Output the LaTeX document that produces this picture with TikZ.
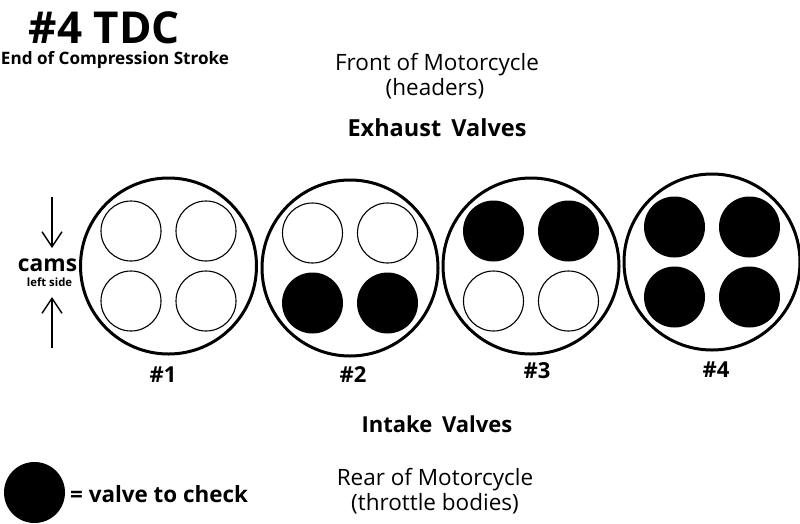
\documentclass[tikz,border=0pt]{standalone}
\usepackage{fontspec}
\setmainfont{Open Sans}
\usepackage{tikz}
\usetikzlibrary{calc,arrows.meta}
\definecolor{ink}{HTML}{000000}
\definecolor{paper}{HTML}{FFFFFF}
\tikzset{
  cyl/.style={draw=ink, line width=3pt, circle, minimum size=176pt, inner sep=0pt},
  vopen/.style={draw=ink, line width=1.1pt, fill=paper, circle, minimum size=60pt, inner sep=0pt},
  vcheck/.style={fill=ink, circle, minimum size=61pt, inner sep=0pt},
  lab/.style={text=ink, inner sep=0pt, anchor=base},
  bigb/.style={lab, font=\fontsize{44}{44}\selectfont\bfseries},
  headb/.style={lab, font=\fontsize{22.5}{23}\selectfont\bfseries},
  headr/.style={lab, font=\fontsize{22.5}{23}\selectfont},
  num/.style={lab, font=\fontsize{22}{22}\selectfont\bfseries},
  camarrow/.style={draw=ink, line width=1.4pt, -{Straight Barb[length=15pt,width=20pt,line width=1.4pt]}}
}

\begin{document}
\begin{tikzpicture}[x=1pt,y=-1pt]
  \useasboundingbox[fill=paper] (0,0) rectangle (800,523);

  % title
  \node[bigb, text depth=0pt] (title) at (104.5,43) {\#4 TDC};
  \node[lab, font=\fontsize{17.1}{18}\selectfont\bfseries] (stroke) at (115,64) {End of Compression Stroke};

  % front side
  \node[headr] (front) at (437,70) {Front of Motorcycle};
  \node[headr] (headers) at (435,95) {(headers)};
  \node[headb, font=\fontsize{23.5}{24}\selectfont\bfseries] (exhaust) at (437,136) {Exhaust\hspace{4pt} Valves};

  % cylinders: number / x / y / TL / TR / BL / BR
  \foreach \n/\cx/\cy/\tl/\tr/\bl/\br in {
      1/168.5/266/vopen/vopen/vopen/vopen,
      2/350/268/vopen/vopen/vcheck/vcheck,
      3/531/266/vcheck/vcheck/vopen/vopen,
      4/712/262/vcheck/vcheck/vcheck/vcheck}{
    \node[cyl] (c\n) at (\cx,\cy) {};
    \node[\tl] (c\n tl) at ($(c\n)+(-37.5,-35)$) {};
    \node[\tr] (c\n tr) at ($(c\n)+(37.5,-35)$) {};
    \node[\bl] (c\n bl) at ($(c\n)+(-37.5,35)$) {};
    \node[\br] (c\n br) at ($(c\n)+(37.5,35)$) {};
  }

  \node[num] (n1) at (163,382) {\#1};
  \node[num] (n2) at (353,382) {\#2};
  \node[num] (n3) at (537,378) {\#3};
  \node[num] (n4) at (716,377) {\#4};

  % cam side
  \node[lab, font=\fontsize{22.8}{24}\selectfont\bfseries] (cams) at (47.5,271.5) {cams};
  \node[lab, font=\fontsize{11.3}{12}\selectfont\bfseries] (left) at (49.5,286.5) {left side};
  \coordinate (dtop) at (52,197);
  \coordinate (dend) at (52,248);
  \coordinate (ubot) at (52,348);
  \coordinate (uend) at (52,297);
  \draw[camarrow] (dtop) -- (dend);
  \draw[camarrow] (ubot) -- (uend);

  % rear side
  \node[headb, font=\fontsize{22}{23}\selectfont\bfseries] (intake) at (437,432) {Intake\hspace{4pt} Valves};
  \node[headr] (rear) at (435,485) {Rear of Motorcycle};
  \node[headr] (throttle) at (435,510) {(throttle bodies)};

  % legend
  \node[vcheck] (key) at (34.5,492.5) {};
  \node[lab, anchor=base west, font=\fontsize{22.4}{23}\selectfont\bfseries] (keytext) at (70,502) {= valve to check};
\end{tikzpicture}
\end{document}
